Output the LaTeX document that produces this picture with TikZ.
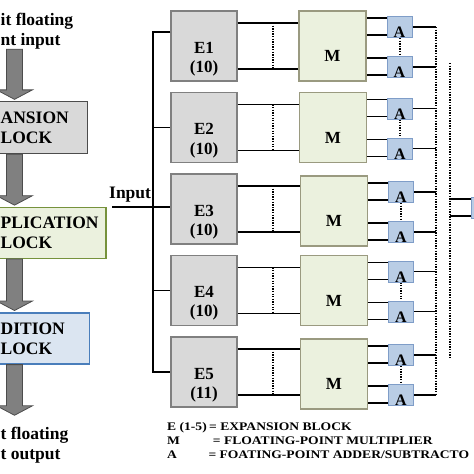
\documentclass[tikz,border=0pt]{standalone}
\usepackage{fontspec}
\setmainfont{Liberation Serif}
\newfontfamily\legendfont[FakeStretch=1.17]{Liberation Serif}
\usepackage{tikz}
\usetikzlibrary{calc}
\usetikzlibrary{positioning}
\definecolor{expfill}{HTML}{D9D9D9}
\definecolor{mulfill}{HTML}{EBF1DE}
\definecolor{muldraw}{HTML}{76923C}
\definecolor{addfill}{HTML}{DBE5F1}
\definecolor{adddraw}{HTML}{4A7EBB}
\definecolor{afill}{HTML}{B9CDE5}
\definecolor{adraw}{HTML}{7F9DC8}
\definecolor{mdraw}{HTML}{9A9A80}
\tikzstyle{lbl}=[inner sep=0pt,align=left,font=\fontsize{17.5}{20}\selectfont\bfseries]
\tikzstyle{block}=[rectangle,inner sep=0pt]
\tikzstyle{expblock}=[block,draw=black!70,fill=expfill,line width=1.3pt,minimum width=146pt,minimum height=52pt]
\tikzstyle{mulblock}=[block,draw=muldraw,fill=mulfill,line width=1.3pt,minimum width=183pt,minimum height=51pt]
\tikzstyle{addblock}=[block,draw=adddraw,fill=addfill,line width=1.6pt,minimum width=150pt,minimum height=51pt]
\tikzstyle{fatarrow}=[fill=black!50,draw=black!70,line width=0.8pt]
\tikzstyle{ebox}=[rectangle,draw=black!50,fill=expfill,line width=1.2pt,minimum width=66pt,minimum height=70pt,inner sep=0pt]
\tikzstyle{mbox}=[rectangle,draw=mdraw,fill=mulfill,line width=1.2pt,minimum width=67pt,minimum height=70pt,inner sep=0pt]
\tikzstyle{abox}=[rectangle,draw=adraw,fill=afill,line width=1pt,minimum width=25pt,minimum height=21pt,inner sep=0pt,
  text height=21pt,text depth=0pt,font=\fontsize{16}{18}\selectfont\bfseries]
\tikzstyle{btext}=[inner sep=0pt,align=center,font=\fontsize{17}{19.4}\selectfont\bfseries]
\tikzstyle{wire}=[line width=1.8pt]
\tikzstyle{dotline}=[line width=2pt,dash pattern=on 1.3pt off 1.3pt]
\tikzstyle{legend}=[inner sep=0pt,anchor=base west,font=\legendfont\fontsize{11.6}{14}\selectfont\bfseries]
\newcommand\fatarrow[2]{%
  \filldraw[fatarrow] let \p1=(#1), \p2=(#2) in
    (\x1-8pt,\y1) -- (\x1-8pt,\y2+11pt) -- (\x1-18pt,\y2+11pt) -- (\x2,\y2+1.5pt)
    -- (\x1+18pt,\y2+11pt) -- (\x1+8pt,\y2+11pt) -- (\x1+8pt,\y1) -- cycle;}

\begin{document}
\begin{tikzpicture}[x=1pt,y=-1pt]
  \useasboundingbox (0,0) rectangle (474,474);
  \clip (0,0) rectangle (474,474);
  % flow of the blocks
  \node[block] (exp) at (14.5,127.5) [expblock] {};
  \node[block] (mul) at (14.5,232.8) [mulblock] {};
  \node[block] (add) at (14.5,338.3) [addblock] {};
  \node[lbl,anchor=west] (intext) at (0.5,31) {it floating\\nt input};
  \node[lbl,anchor=west] (exptext) at (0.5,127.5) {ANSION\\LOCK};
  \node[lbl,anchor=west] (multext) at (0.5,232.8) {PLICATION\\LOCK};
  \node[lbl,anchor=west] (addtext) at (0.5,338.3) {DITION\\LOCK};
  \node[lbl,anchor=west] (outtext) at (0.5,445) {t floating\\t output};
  \fatarrow{intext.south -| exp.north}{exp.north}
  \fatarrow{exp.south}{mul.north}
  \fatarrow{mul.south}{add.north}
  \fatarrow{add.south}{$(outtext.north -| add.south)+(0,-10)$}
  % the five rows
  \node[lbl,anchor=base west] (inlabel) at (109,198) {Input};
  \coordinate (inpt) at (112,207);
  \coordinate (bustop) at (153,32);
  \coordinate (bus) at (436,0);
  \coordinate (bus2) at (450,0);
  \foreach \i/\c/\d/\dx/\n in {1/46/0/0/10, 2/127.5/0/0.5/10, 3/209/2/1.5/10, 4/290.5/0/1.5/10, 5/372/2/1.5/11} {
    \node[ebox,label={[btext,yshift=-13pt]center:E\i\\(\n)}] (e\i) at (204,\c) {};
    \node[mbox,label={[btext,yshift=-10pt]center:M}] (m\i) at (332.5+\dx,\c+\d) {};
    \node[abox] (a\i1) at ($(m\i)+(67,-19)$) {A};
    \node[abox] (a\i2) at ($(m\i)+(67,21)$) {A};
    \draw[wire] ($(e\i.east)+(0,-23)$) -- ($(m\i.west |- e\i.east)+(0,-23)$);
    \draw[wire] ($(e\i.east)+(0,23)$) -- ($(m\i.west |- e\i.east)+(0,23)$);
    \draw[dotline] ($(e\i.east)+(35,-23)$) -- ($(e\i.east)+(35,23)$);
    \draw[wire] ($(a\i1.west)+(0,-9)$) -- ($(m\i.east |- a\i1.west)+(0,-9)$);
    \draw[wire] ($(a\i1.west)+(0,8)$) -- ($(m\i.east |- a\i1.west)+(0,8)$);
    \draw[wire] ($(a\i2.west)+(0,-9)$) -- ($(m\i.east |- a\i2.west)+(0,-9)$);
    \draw[wire] ($(a\i2.west)+(0,8)$) -- ($(m\i.east |- a\i2.west)+(0,8)$);
    \draw[dotline] (a\i1.south) -- (a\i2.north);
    \draw[wire] (a\i1.east) -- (a\i1.east -| bus);
    \draw[wire] (a\i2.east) -- (a\i2.east -| bus);
  }
  \draw[wire] (e1.west |- bustop) -- (bustop) -- (bustop |- e5.west) -- (e5.west);
  \draw[wire] (e2.west -| bustop) -- (e2.west);
  \draw[wire] (e4.west -| bustop) -- (e4.west);
  \draw[wire] (inpt) -- (inpt -| e3.west);
  \draw[dotline] (bus |- a11) -- (bus |- a52);
  % next stage
  \coordinate (b2top) at (450,63);
  \coordinate (b2bot) at (450,359);
  \draw[dotline] (b2top) -- (b2bot);
  \node[abox] (afin) at (483.5,207.5) {};
  \draw[wire] ($(afin.west)+(0,-8.5)$) -- ($(afin.west -| bus2)+(0,-8.5)$);
  \draw[wire] ($(afin.west)+(0,8.5)$) -- ($(afin.west -| bus2)+(0,8.5)$);
  % legend
  \node[legend] (legE) at (167,430) {E (1-5)};
  \node[legend] (legEt) at (209,430) {= EXPANSION BLOCK};
  \node[legend] (legM) at (167,444.3) {M};
  \node[legend] (legMt) at (212.7,444.3) {= FLOATING-POINT MULTIPLIER};
  \node[legend] (legA) at (167,458.3) {A};
  \node[legend] (legAt) at (208.3,458.3) {= FOATING-POINT ADDER/SUBTRACTO};
\end{tikzpicture}
\end{document}
